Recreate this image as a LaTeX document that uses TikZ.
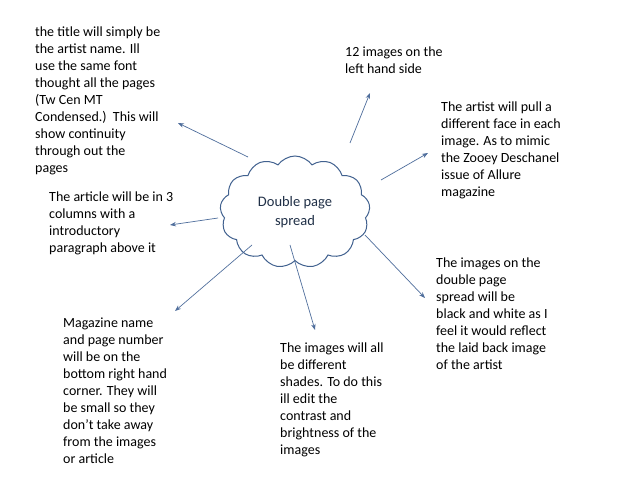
\documentclass[tikz,border=0pt]{standalone}
\usepackage{fontspec}
\setmainfont{Carlito}
\usetikzlibrary{shapes.symbols,arrows.meta}
\definecolor{cl}{HTML}{41618F}
\definecolor{ar}{HTML}{4F6E9C}
\begin{document}
\begin{tikzpicture}[x=1pt,y=-1pt,
  txt/.style={anchor=north west,inner sep=0pt,align=left,font=\fontsize{14}{17}\selectfont},
  conn/.style={draw=ar,line width=0.7pt,-{Stealth[length=6pt,width=4.5pt]}}]
\useasboundingbox[fill=white] (0,0) rectangle (638,478);
\node[cloud,cloud puffs=13,cloud puff arc=110,aspect=1.5,draw=cl,line width=1pt,fill=white,minimum width=150pt,minimum height=112pt,align=center,font=\fontsize{14.5}{19}\selectfont,text=cl!50!black] (c) at (295,212) {Double page\\spread};
\node[txt] (t1) at (35,27) {the title will simply be\\the artist name. Ill\\use the same font\\thought all the pages\\(Tw Cen MT\\Condensed.)\ \ This will\\show continuity\\through out the\\pages};
\node[txt] (t2) at (345,47) {12 images on the\\left hand side};
\node[txt] (t3) at (441,102) {The artist will pull a\\different face in each\\image. As to mimic\\the Zooey Deschanel\\issue of Allure\\magazine};
\node[txt] (t4) at (49,192) {The article will be in 3\\columns with a\\introductory\\paragraph above it};
\node[txt] (t5) at (436,258) {The images on the\\double page\\spread will be\\black and white as I\\feel it would reflect\\the laid back image\\of the artist};
\node[txt] (t6) at (63,318) {Magazine name\\and page number\\will be on the\\bottom right hand\\corner. They will\\be small so they\\don't take away\\from the images\\or article};
\node[txt] (t7) at (280,343) {The images will all\\be different\\shades. To do this\\ill edit the\\contrast and\\brightness of the\\images};
\coordinate (s1) at (248,157); \coordinate (e1) at (178,123);
\coordinate (s2) at (350,143); \coordinate (e2) at (370,93);
\coordinate (s3) at (381,180); \coordinate (e3) at (428,153);
\coordinate (s4) at (218,218); \coordinate (e4) at (170,225);
\coordinate (s5) at (252,245); \coordinate (e5) at (175,311);
\coordinate (s6) at (290,245); \coordinate (e6) at (315,330);
\coordinate (s7) at (365,235); \coordinate (e7) at (425,298);
\foreach \i in {1,...,7} \draw[conn] (s\i) -- (e\i);
\end{tikzpicture}
\end{document}
